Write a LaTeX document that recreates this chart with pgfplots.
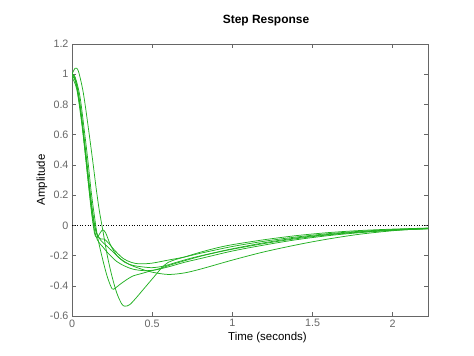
\documentclass[border=0pt]{standalone}
\usepackage{fontspec}
\setmainfont{Liberation Sans}
\usepackage{pgfplots}
\pgfplotsset{compat=1.18}
\definecolor{axgray}{rgb}{0.4,0.4,0.4}
\definecolor{lgreen}{rgb}{0.13,0.69,0.13}
\begin{document}
\begin{tikzpicture}[x=1bp,y=1bp]
\useasboundingbox (0,0) rectangle (474,355);
\begin{axis}[at={(72bp,39bp)}, anchor=south west,
  width=356bp, height=272bp, scale only axis,
  xmin=0, xmax=2.22, ymin=-0.6, ymax=1.2,
  xtick={0,0.5,1,1.5,2},
  ytick={-0.6,-0.4,-0.2,0,0.2,0.4,0.6,0.8,1,1.2},
  yticklabels={-0.6,-0.4,-0.2,0,0.2,0.4,0.6,0.8,1,1.2},
  xticklabels={0,0.5,1,1.5,2},
  tick pos=both, tick align=inside, major tick length=4bp,
  axis line style={axgray, line width=0.5pt},
  tick style={axgray, line width=0.5pt},
  ticklabel style={font=\fontsize{10.8}{12}\selectfont, text=axgray},
  /pgf/number format/assume math mode=true,
  xlabel={Time (seconds)}, ylabel={Amplitude},
  label style={font=\fontsize{11.5}{13}\selectfont},
  xlabel style={at={(axis description cs:0.549,-0.078)}, anchor=center},
  ylabel style={at={(axis description cs:-0.0843,0.5)}, anchor=center},
  title={\textbf{Step Response}},
  title style={font=\fontsize{12}{14}\selectfont, at={(axis description cs:0.545,1.0625)}, anchor=center},
  resp/.style={lgreen, line width=0.75pt, smooth, no markers},
]
\addplot[black, dotted, line width=0.6pt, no markers] coordinates {(0,0) (2.22,0)};
% Curve A (overshoot, deepest dip)
\addplot[resp] coordinates {(0,1.0)(0.02,1.04)(0.04,1.02)(0.07,0.88)(0.1,0.66)(0.13,0.42)(0.15,0.25)(0.17,0.1)(0.19,-0.02)(0.22,-0.2)(0.25,-0.34)(0.28,-0.45)(0.31,-0.52)(0.33,-0.535)(0.36,-0.525)(0.40,-0.48)(0.44,-0.43)(0.48,-0.38)(0.52,-0.33)(0.56,-0.28)(0.6,-0.245)(0.65,-0.225)(0.7,-0.21)(0.8,-0.178)(0.9,-0.15)(1.0,-0.128)(1.2,-0.095)(1.4,-0.068)(1.6,-0.048)(1.8,-0.034)(2.0,-0.025)(2.22,-0.018)};
% Curve B (dip -0.42 at 0.25)
\addplot[resp] coordinates {(0,1.0)(0.02,0.98)(0.05,0.85)(0.08,0.6)(0.1,0.42)(0.12,0.22)(0.14,0.06)(0.16,-0.08)(0.19,-0.22)(0.22,-0.34)(0.25,-0.42)(0.27,-0.415)(0.3,-0.39)(0.34,-0.36)(0.38,-0.335)(0.43,-0.32)(0.48,-0.305)(0.55,-0.285)(0.62,-0.26)(0.7,-0.235)(0.8,-0.205)(0.9,-0.18)(1.0,-0.158)(1.2,-0.12)(1.4,-0.088)(1.6,-0.063)(1.8,-0.045)(2.0,-0.032)(2.22,-0.022)};
% Curve C (small bump at 0.19)
\addplot[resp] coordinates {(0,1.0)(0.02,0.97)(0.05,0.8)(0.08,0.5)(0.1,0.3)(0.12,0.1)(0.14,-0.05)(0.155,-0.08)(0.17,-0.06)(0.19,-0.03)(0.21,-0.05)(0.24,-0.13)(0.28,-0.2)(0.33,-0.245)(0.38,-0.265)(0.44,-0.275)(0.5,-0.28)(0.57,-0.27)(0.65,-0.245)(0.75,-0.215)(0.85,-0.19)(1.0,-0.155)(1.2,-0.115)(1.4,-0.083)(1.6,-0.06)(1.8,-0.042)(2.0,-0.03)(2.22,-0.021)};
% Curve D (lowest tail)
\addplot[resp] coordinates {(0,0.99)(0.03,0.93)(0.06,0.72)(0.09,0.45)(0.11,0.25)(0.13,0.08)(0.15,-0.04)(0.18,-0.1)(0.21,-0.13)(0.25,-0.17)(0.3,-0.22)(0.36,-0.26)(0.42,-0.285)(0.5,-0.31)(0.6,-0.325)(0.7,-0.315)(0.8,-0.29)(1.0,-0.23)(1.2,-0.175)(1.42,-0.125)(1.6,-0.09)(1.8,-0.058)(2.04,-0.032)(2.22,-0.022)};
% Curve E (flattest)
\addplot[resp] coordinates {(0,1.0)(0.02,0.96)(0.05,0.78)(0.08,0.52)(0.1,0.33)(0.12,0.15)(0.14,0.0)(0.16,-0.07)(0.18,-0.09)(0.2,-0.09)(0.23,-0.12)(0.27,-0.17)(0.32,-0.22)(0.37,-0.245)(0.42,-0.255)(0.5,-0.25)(0.6,-0.23)(0.7,-0.21)(0.8,-0.185)(1.0,-0.14)(1.2,-0.105)(1.4,-0.077)(1.6,-0.055)(1.8,-0.039)(2.0,-0.028)(2.22,-0.019)};
% Curve F
\addplot[resp] coordinates {(0,0.98)(0.03,0.9)(0.06,0.68)(0.08,0.5)(0.1,0.3)(0.12,0.12)(0.14,-0.03)(0.16,-0.1)(0.19,-0.14)(0.23,-0.19)(0.28,-0.24)(0.33,-0.27)(0.38,-0.29)(0.45,-0.3)(0.52,-0.295)(0.6,-0.275)(0.7,-0.245)(0.8,-0.22)(1.0,-0.17)(1.2,-0.13)(1.4,-0.095)(1.6,-0.068)(1.8,-0.048)(2.0,-0.033)(2.22,-0.023)};
\end{axis}
\end{tikzpicture}
\end{document}
